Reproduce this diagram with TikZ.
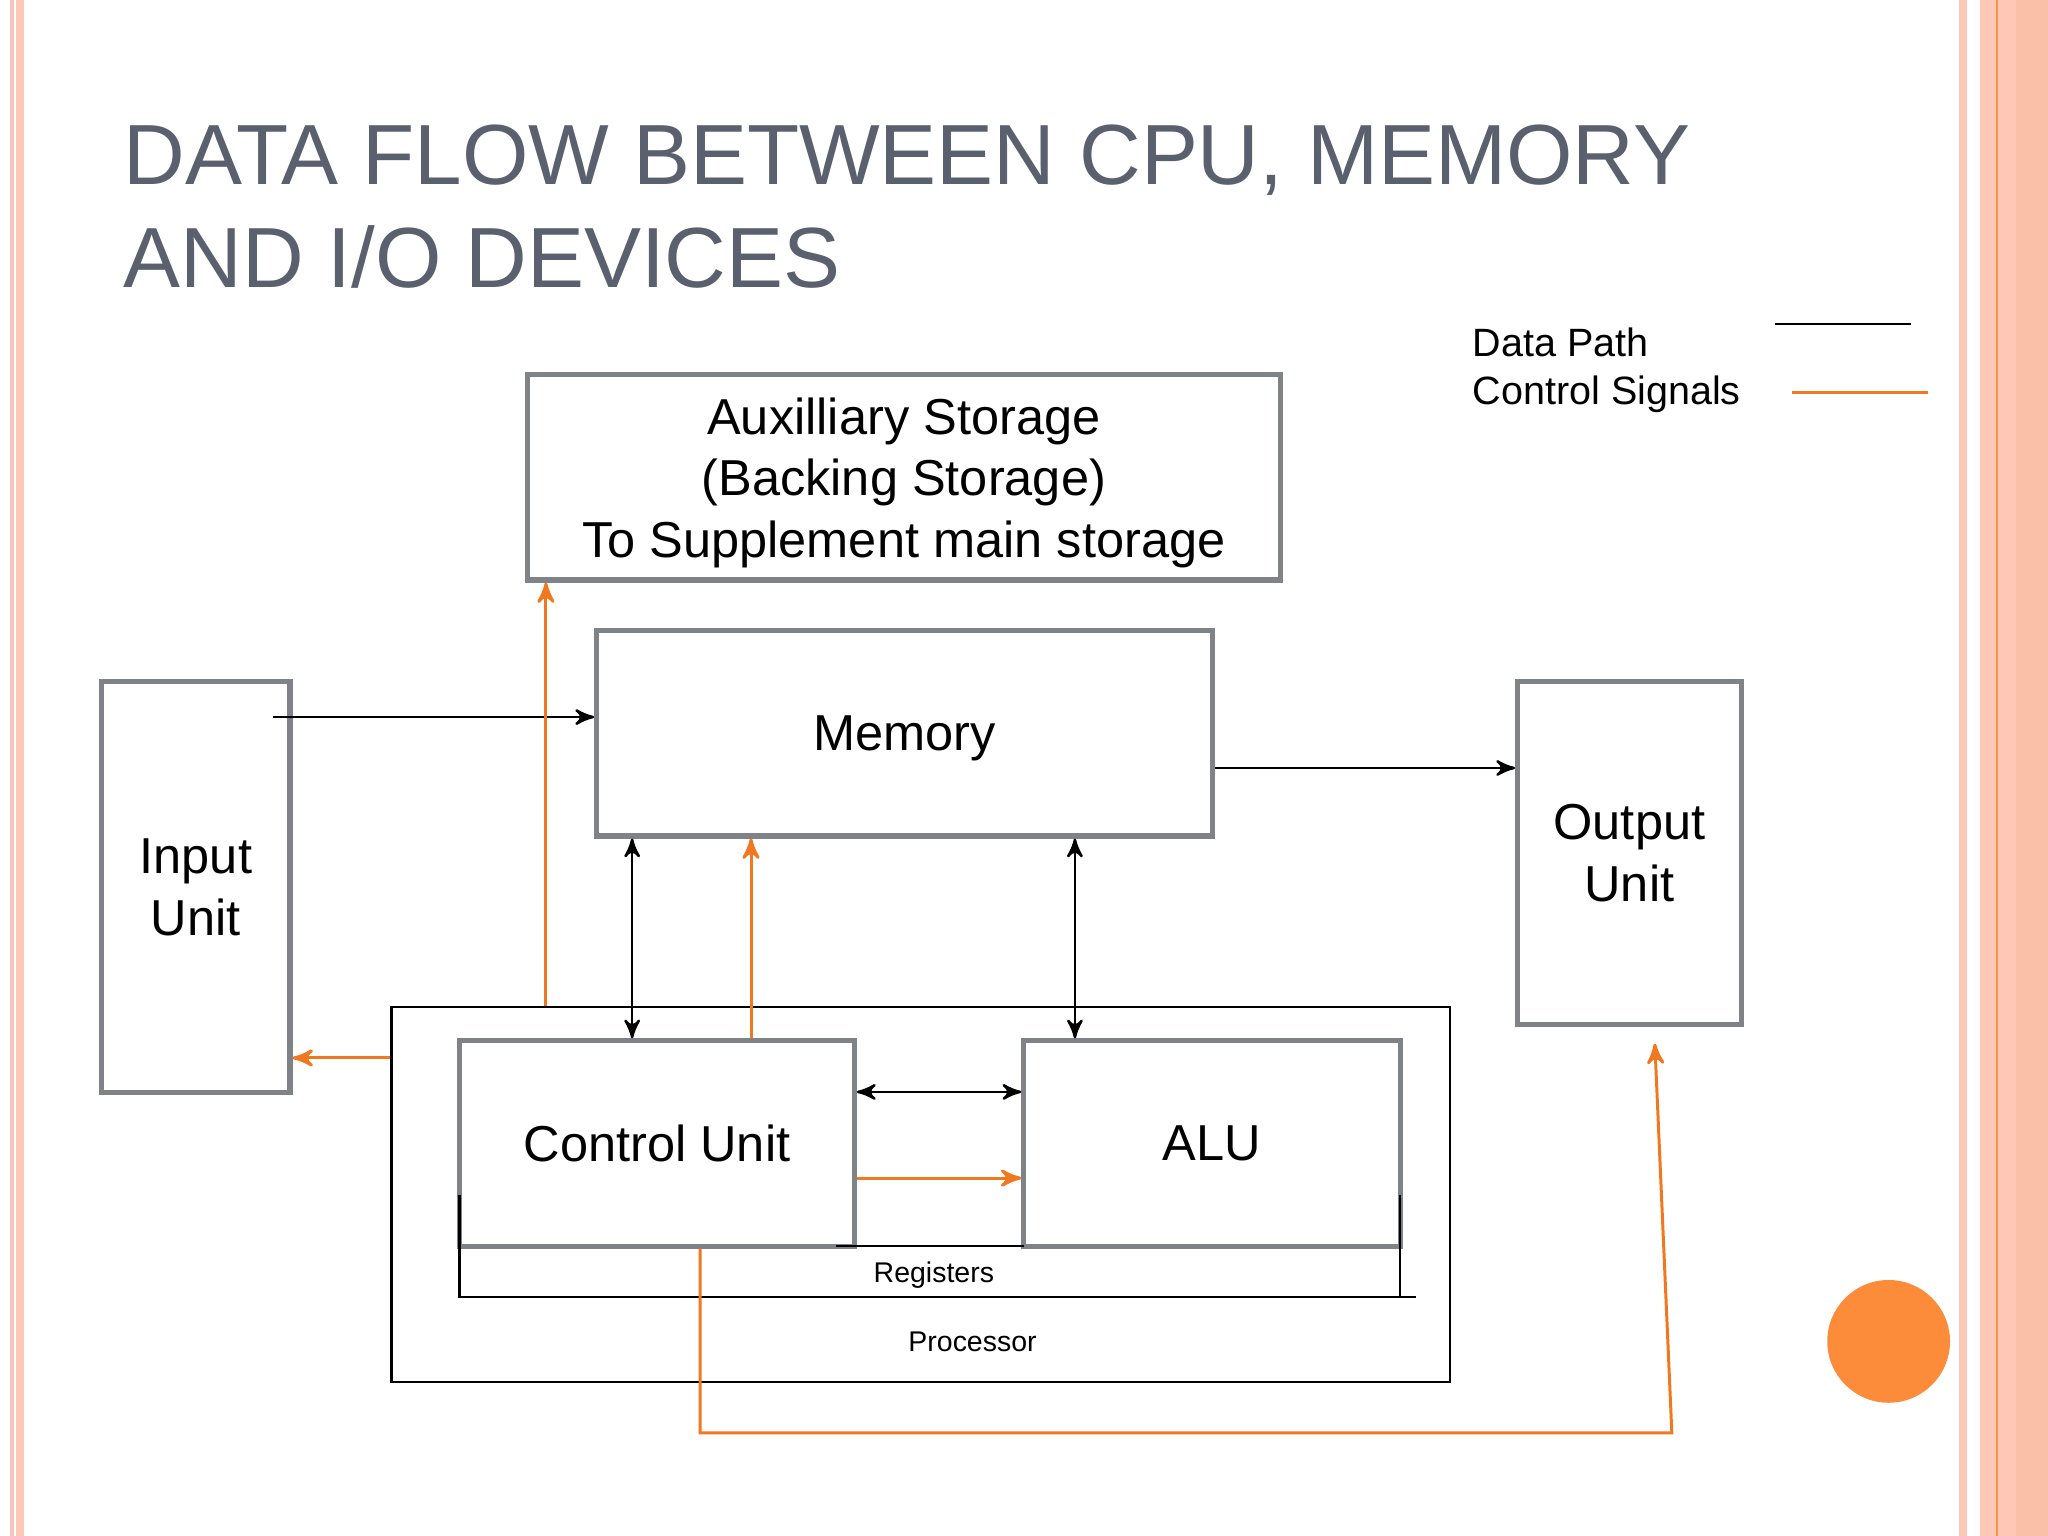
\documentclass[tikz,border=0pt]{standalone}
\usepackage{fontspec}
\setmainfont{Liberation Sans}
\usetikzlibrary{arrows}
\definecolor{boxgray}{RGB}{127,131,135}
\definecolor{ctrlorange}{RGB}{240,120,32}
\definecolor{titlegray}{RGB}{90,96,110}
\definecolor{stripe}{RGB}{253,201,182}
\definecolor{stripedeep}{RGB}{251,192,168}
\definecolor{stripepink}{RGB}{246,196,188}
\definecolor{dotorange}{RGB}{253,140,58}

\begin{document}
\begin{tikzpicture}[x=0.01cm,y=-0.01cm]
 \tikzset{unit/.style = {shape=rectangle,draw=boxgray,line width=1.1pt,inner sep=0pt,text depth=0pt,align=center,font=\fontsize{11}{13.4}\selectfont}}
 \tikzset{datapath/.style = {->,> = stealth',line width=0.55pt}}
 \tikzset{datapair/.style = {<->,> = stealth',line width=0.55pt}}
 \tikzset{ctrl/.style = {->,> = stealth',line width=0.65pt,draw=ctrlorange}}
 \tikzset{small/.style = {font=\fontsize{6.2}{7}\selectfont,inner sep=0pt}}
 \tikzset{legend/.style = {font=\fontsize{8.6}{10.5}\selectfont,inner sep=0pt,anchor=base west}}
 \tikzset{heading/.style = {font=\fontsize{18.6}{22.3}\selectfont,text=titlegray,inner sep=0pt,anchor=base west}}
 \useasboundingbox (0,0) rectangle (1568,1176);
 % slide border
 \fill[stripepink] (8,0) rectangle (10.5,1176);
 \fill[stripe] (12,0) rectangle (18.5,1176);
 \fill[stripe] (1499.5,0) rectangle (1505.7,1176);
 \fill[stripe] (1516,0) rectangle (1568,1176);
 \fill[stripedeep] (1543.6,0) rectangle (1568,1176);
 \draw[ctrlorange!80,line width=0.5pt] (1528.7,0) -- (1528.7,1176);
 \fill[dotorange] (1446,1027) circle (47);

 % title and legend
 \node[heading] (title1) at (94,141.6) {DATA FLOW BETWEEN CPU, MEMORY};
 \node[heading] (title2) at (94,220) {AND I/O DEVICES};
 \node[legend] (lgdata) at (1127,273) {Data Path};
 \node[legend] (lgctrl) at (1127,310) {Control Signals};
 \draw[line width=0.6pt] (1359,248) -- (1463,248);
 \draw[ctrlorange,line width=0.6pt] (1372,300.4) -- (1476,300.4);

 % units
 \node[unit,minimum width=5.76cm,minimum height=1.57cm] (aux) at (692,365.5) {Auxilliary Storage\\(Backing Storage)\\To Supplement main storage};
 \node[unit,minimum width=4.71cm,minimum height=1.57cm] (mem) at (692.5,561.5) {Memory};
 \node[unit,minimum width=1.44cm,minimum height=3.14cm] (inp) at (150,679) {Input\\Unit};
 \node[unit,minimum width=1.71cm,minimum height=2.62cm] (outp) at (1247.5,653) {Output\\Unit};
 \node[draw,line width=0.55pt,minimum width=8.1cm,minimum height=2.87cm,inner sep=0pt] (proc) at (705,914.5) {};
 \node[unit,minimum width=3.02cm,minimum height=1.57cm] (cu) at (503,875.5) {Control Unit};
 \node[unit,minimum width=2.88cm,minimum height=1.57cm] (alu) at (928,875.5) {ALU};

 % registers
 \draw[line width=0.55pt] (352,915) -- (352,993) -- (1084,993);
 \draw[line width=0.55pt] (1072,915) -- (1072,993);
 \draw[line width=0.55pt] (640,954) -- (784,954);
 \node[small,anchor=base] (regs) at (715,982) {Registers};
 \node[small,anchor=base] (proclbl) at (744.6,1035) {Processor};

 % data path
 \coordinate (inptap) at (209,549);
 \coordinate (memtap) at (928,588);
 \coordinate (cutap) at (484,0);
 \coordinate (alutap) at (823,0);
 \coordinate (pairtap) at (0,836);
 \draw[datapath] (inptap) -- (inptap -| mem.west);
 \draw[datapath] (memtap -| mem.east) -- (memtap -| outp.west);
 \draw[datapair] (cutap |- mem.south) -- (cutap |- cu.north);
 \draw[datapair] (alutap |- mem.south) -- (alutap |- alu.north);
 \draw[datapair] (pairtap -| cu.east) -- (pairtap -| alu.west);

 % control signals
 \coordinate (auxctl) at (418,0);
 \coordinate (memctl) at (575,0);
 \coordinate (inpctl) at (0,810);
 \coordinate (aluctl) at (0,902);
 \coordinate (outtap) at (536,0);
 \coordinate (outctl) at (1267,799);
 \draw[ctrl] (auxctl |- proc.north) -- (auxctl |- aux.south);
 \draw[ctrl] (memctl |- cu.north) -- (memctl |- mem.south);
 \draw[ctrl] (inpctl -| proc.west) -- (inpctl -| inp.east);
 \draw[ctrl] (aluctl -| cu.east) -- (aluctl -| alu.west);
 \draw[ctrl] (outtap |- cu.south) -- (536,1097) -- (1280,1097) -- (outctl);
\end{tikzpicture}
\end{document}
